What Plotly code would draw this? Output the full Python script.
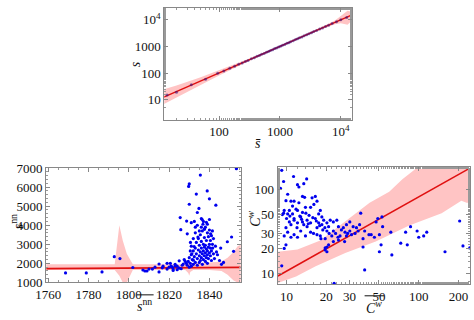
import plotly.graph_objects as go

# ---------- top panel data ----------
top_x = [14, 20, 35, 60, 95, 120, 150, 180, 210, 240, 270, 300, 340, 380, 420, 460, 500, 550,
         600, 650, 700, 760, 820, 880, 950, 1020, 1100, 1200, 1300, 1400, 1500, 1650, 1800,
         1950, 2100, 2300, 2500, 2750, 3000, 3300, 3600, 4000, 4500, 5000, 5600, 6300, 7200,
         8500, 10000, 12500]
top_y = [15, 19, 36, 58, 97, 118, 152, 178, 213, 238, 272, 297, 343, 377, 424, 455, 505, 545,
         606, 644, 707, 752, 828, 871, 959, 1010, 1110, 1188, 1313, 1386, 1515, 1634, 1818,
         1930, 2121, 2277, 2525, 2722, 3030, 3267, 3636, 3960, 4545, 4950, 5656, 6237, 7272,
         8415, 10100, 12375]
top_fit_x = [12, 15000]
top_fit_y = [12, 15000]
top_band_x = [12, 20, 50, 100, 300, 1000, 3000, 6000, 8000, 10000, 12900, 15000]
top_band_lo = [6.6, 12, 36, 80, 270, 950, 2800, 5300, 6800, 7500, 6500, 9000]
top_band_hi = [24, 34, 70, 125, 335, 1050, 3250, 6800, 9400, 13500, 22000, 20000]

# ---------- bottom-left panel data ----------
bl_x = [1768.6, 1778.9, 1786.7, 1792.8, 1795.6, 1802, 1808, 1809, 1811.7, 1815, 1815, 1816.6,
        1819, 1820.6, 1821.6, 1822, 1823, 1824, 1825, 1825.5, 1825.8, 1826, 1827, 1828,
        1828.7, 1829, 1829.7, 1830, 1830, 1830.6, 1831, 1831.3, 1832, 1832.4, 1833.5, 1834,
        1834.3, 1834.8, 1835.5, 1836.4, 1836.8, 1837.6, 1838.9, 1840, 1840.6, 1841.6, 1843.2,
        1845.6, 1848.9, 1851, 1852, 1853.4,
        1829, 1829.5, 1830, 1830.5, 1831, 1831, 1831.5, 1832, 1832, 1832.5, 1833, 1833, 1833.5,
        1833.5, 1834, 1834, 1834.5, 1834.5, 1835, 1835, 1835, 1835.5, 1835.5, 1835.5, 1836,
        1836, 1836, 1836.5, 1836.5, 1836.5, 1837, 1837, 1837, 1837, 1837.5, 1837.5, 1837.5,
        1838, 1838, 1838, 1838, 1838.5, 1838.5, 1838.5, 1839, 1839, 1839, 1839, 1839.5,
        1839.5, 1839.5, 1840, 1840, 1840, 1840.5, 1840.5, 1840.5, 1841, 1841, 1841, 1841.5,
        1841.5, 1842, 1842, 1842.5, 1843, 1843.5, 1844, 1845, 1846, 1847, 1833, 1832, 1831,
        1830.5, 1834, 1836, 1838.5, 1840, 1839, 1837.5, 1836, 1835, 1833, 1832.5, 1830,
        1828.5, 1827.5, 1826.5, 1825, 1824, 1823, 1822, 1821, 1820, 1819, 1817, 1813, 1810,
        1807]
bl_y = [1500, 1500, 1550, 2350, 2250, 1783, 1600, 1600, 1700, 1967, 1550, 1767,
        2000, 2000, 1800, 1630, 1867, 1667, 2133, 4400, 3767, 1717, 1967, 2100,
        4217, 3550, 6033, 6167, 5100, 3100, 4133, 2500, 2167, 2883, 5633, 4667,
        3383, 4883, 6633, 4300, 4050, 3800, 5800, 5383, 3550, 2800, 5050,
        2800, 3133, 3383, 2633, 6967,
        1900, 2100, 2300, 2000, 1850, 2450, 2200, 2650, 1950, 2350, 2050, 2800, 2500,
        3100, 2250, 1900, 2700, 3300, 2400, 2050, 2950, 2600, 3500, 2150, 2300,
        2800, 3150, 1950, 2500, 3700, 2200, 2650, 3000, 4200, 2400, 2850, 3350,
        2100, 2550, 3900, 2950, 2300, 2750, 3200, 2450, 2000, 3600, 2650, 2850,
        3400, 2250, 3000, 2550, 3750, 2400, 3200, 2800, 2150, 3450, 2650, 3000,
        3700, 2500, 3300, 2250, 2900, 2600, 2450, 2150, 1950, 2050, 3600, 3300, 2900,
        2650, 4000, 4350, 4150, 4300, 4050, 3800, 3900, 3700, 3900, 4200, 1800,
        2000, 2200, 1900, 1750, 1850, 1950, 1700, 1850, 1800, 1700, 1850, 1800, 1700,
        1650]
bl_fit_x = [1759, 1856]
bl_fit_y = [1720, 1790]
bl_band_x = [1759, 1793, 1795.3, 1797, 1799, 1802, 1828, 1829.5, 1830, 1830.5, 1832, 1840,
             1846, 1849, 1852, 1854, 1856]
bl_band_lo = [1650, 1650, 1350, 1000, 1000, 1650, 1650, 1500, 1350, 1550, 1650, 1650,
              1600, 1400, 1100, 1000, 1000]
bl_band_hi = [1950, 1950, 4000, 3200, 2500, 1950, 1950, 2000, 2000, 2000, 2000, 2050,
              2100, 2300, 2600, 2900, 3000]

# ---------- bottom-right panel data ----------
br_x = [9.2, 11.3, 9.0, 9.5, 10.2, 12.1, 12.4, 13.5, 14.2, 13.7, 11.4, 10.8, 9.9, 11.1, 9.6,
        10.2, 9.5, 9.3, 12.1, 13.2, 15.2, 16.1, 17.0, 15.6, 16.5, 18.0, 17.5, 14.8, 12.8, 11.4,
        10.5, 10.8, 9.9, 12.1, 13.5, 15.2, 16.5, 18.5, 19.1, 20.2, 20.8, 17.0, 14.3, 12.8,
        11.4, 10.2, 9.6, 10.8, 12.1, 13.9, 15.2, 17.0, 18.0, 19.6, 20.2, 22.6, 22.6, 24.0,
        24.7, 26.9, 28.4, 30.1, 31.9, 33.8, 34.8, 30.1, 27.7, 28.4, 25.4, 24.7, 22.6, 20.8,
        19.6, 19.6, 20.2, 9.9, 9.6, 9.2, 36.4, 35.7, 39.0, 42.0, 43.7, 37.9, 37.9, 46.2, 47.6,
        50.4, 50.4, 51.9, 53.3, 49.0, 52.7, 61.5, 62.6, 73.1, 79.6, 81.9, 86.7, 97.2, 100,
        109, 115, 39.0, 22.9, 158, 204, 216, 243, 249, 20.2, 21.4, 18.5, 17.5, 14.3, 13.2,
        11.4, 11.1, 13.9, 12.4, 13.2, 10.5, 11.8, 12.6, 13.0, 14.0, 14.6, 15.8, 16.8, 17.8,
        18.8, 19.5, 21.0, 22.0, 23.5, 26.0, 29.0, 31.0, 10.0, 10.6, 12.0, 16.0, 18.2, 24.5,
        27.5, 33.0]
br_y = [167, 141, 102, 123, 87, 113, 106, 116, 132, 80, 72, 72, 73, 63, 56,
        51, 52, 50, 56, 53, 61, 66, 72, 79, 82, 56, 51, 49, 47, 45,
        41, 38, 35, 40, 38, 40, 45, 47, 43, 40, 36, 35, 36, 32,
        29, 31, 28, 27, 27, 28, 31, 29, 28, 26, 32, 32, 41, 43,
        36, 35, 38, 41, 36, 35, 32, 32, 31, 28, 28, 25, 24, 22,
        20.2, 19.1, 18.2, 22, 19.9, 12.4, 52, 38, 32, 29, 29, 26, 20.7, 27, 41,
        29, 18.2, 22, 36, 45, 47, 31, 16.7, 23, 31, 22, 36, 32, 27,
        28, 31, 11.1, 7.7, 18.2, 42, 21.3, 20.2, 24, 20.7, 43, 38, 40, 43, 41,
        43, 51, 61, 69, 82, 56, 58, 48, 44, 52, 39, 46, 42, 37,
        33, 35, 30, 28, 30, 33, 30, 29, 45, 48, 35, 30, 26, 27,
        24, 30]
br_fit_x = [8.6, 240]
br_fit_y = [9.4, 175]
br_band_x_hi = [8.6, 12.1, 18.0, 26.9, 42.5, 59.8, 75.2, 94.4, 264]
br_band_hi = [18.2, 19.4, 24.7, 39.5, 69.2, 93.3, 131, 173, 173]
br_band_x_lo = [8.4, 11.8, 16.6, 27.8, 47.3, 84.7, 149, 210, 230, 264]
br_band_lo = [7.7, 9.3, 12.3, 17.6, 24.0, 37.2, 52.0, 72.8, 69.2, 69.2]

PINK = "#ffc4c4"
RED = "#e01010"
BLUE = "#0000ee"
FONT = "Liberation Serif"

fig = go.Figure()

def band(xs_lo, lo, xs_hi, hi, xa, ya):
    fig.add_trace(go.Scatter(x=list(xs_lo) + list(xs_hi)[::-1], y=list(lo) + list(hi)[::-1],
                             fill="toself", fillcolor=PINK, line=dict(width=0),
                             mode="lines", xaxis=xa, yaxis=ya, hoverinfo="skip"))

# top
band(top_band_x, top_band_lo, top_band_x, top_band_hi, "x", "y")
fig.add_trace(go.Scatter(x=top_fit_x, y=top_fit_y, mode="lines", line=dict(color=RED, width=1.5),
                         xaxis="x", yaxis="y"))
fig.add_trace(go.Scatter(x=top_x, y=top_y, mode="markers",
                         marker=dict(color="#2a0a80", size=3, opacity=0.55),
                         xaxis="x", yaxis="y"))
# bottom-left
band(bl_band_x, bl_band_lo, bl_band_x, bl_band_hi, "x2", "y2")
fig.add_trace(go.Scatter(x=bl_fit_x, y=bl_fit_y, mode="lines", line=dict(color=RED, width=1.8),
                         xaxis="x2", yaxis="y2"))
fig.add_trace(go.Scatter(x=bl_x, y=bl_y, mode="markers", marker=dict(color=BLUE, size=3.2),
                         xaxis="x2", yaxis="y2"))
# bottom-right
band(br_band_x_lo, br_band_lo, br_band_x_hi, br_band_hi, "x3", "y3")
fig.add_trace(go.Scatter(x=br_fit_x, y=br_fit_y, mode="lines", line=dict(color=RED, width=1.5),
                         xaxis="x3", yaxis="y3"))
fig.add_trace(go.Scatter(x=br_x, y=br_y, mode="markers", marker=dict(color=BLUE, size=3.2),
                         xaxis="x3", yaxis="y3"))

ax_common = dict(showline=True, linecolor="#888888", linewidth=1, mirror="allticks",
                 ticks="inside", ticklen=4, tickcolor="#888888", showgrid=False, zeroline=False,
                 tickfont=dict(family=FONT, size=13, color="#111111"))
minor = dict(ticks="inside", ticklen=2, tickcolor="#999999", showgrid=False)

fig.update_layout(
    width=474, height=320, margin=dict(l=0, r=0, t=0, b=0),
    paper_bgcolor="white", plot_bgcolor="white", showlegend=False,
    xaxis=dict(ax_common, type="log", range=[1.10, 4.18], domain=[0.331, 0.736], anchor="y",
               tickvals=[100, 1000, 10000], ticktext=["100", "1000", "10<sup>4</sup>"],
               minor=minor),
    yaxis=dict(ax_common, type="log", range=[0.25, 4.46], domain=[0.631, 0.998], anchor="x",
               tickvals=[10, 100, 1000, 10000], ticktext=["10", "100", "1000", "10<sup>4</sup>"],
               minor=minor),
    xaxis2=dict(ax_common, range=[1759, 1855.5], domain=[0.076, 0.496], anchor="y2",
                tickvals=[1760, 1780, 1800, 1820, 1840], minor=dict(minor, dtick=5)),
    yaxis2=dict(ax_common, range=[1000, 7000], domain=[0.097, 0.472], anchor="x2",
                tickvals=[1000, 2000, 3000, 4000, 5000, 6000, 7000], minor=dict(minor, dtick=200)),
    xaxis3=dict(ax_common, type="log", range=[0.933, 2.39], domain=[0.576, 0.992], anchor="y3",
                tickvals=[10, 20, 30, 50, 100, 200], minor=minor),
    yaxis3=dict(ax_common, type="log", range=[0.876, 2.26], domain=[0.091, 0.475], anchor="x3",
                tickvals=[10, 20, 30, 50, 100], minor=minor),
)

lab = dict(family=FONT, size=14, color="#111111")
def label(text, px, py, angle=0):
    fig.add_annotation(text=text, x=px / 474, y=1 - py / 320, xref="paper", yref="paper",
                       xanchor="center", yanchor="middle", showarrow=False,
                       textangle=angle, font=lab)

def overline(x0, x1, py):
    fig.add_shape(type="line", xref="paper", yref="paper", x0=x0 / 474, x1=x1 / 474,
                  y0=1 - py / 320, y1=1 - py / 320, line=dict(color="#111111", width=1))

label("<i>s</i>", 127, 60, -90)
label("<i>s̄</i>", 253, 143)
label("<i>s</i><sup>nn</sup>", 7, 225, -90)
label("<i>s</i><sup>nn</sup>", 137, 313)
overline(129, 146, 302)
label("<i>C</i><sup><i>w</i></sup>", 248, 222, -90)
label("<i>C</i><sup><i>w</i></sup>", 372, 315)
overline(362, 382, 303)

fig.write_html("out.html")
